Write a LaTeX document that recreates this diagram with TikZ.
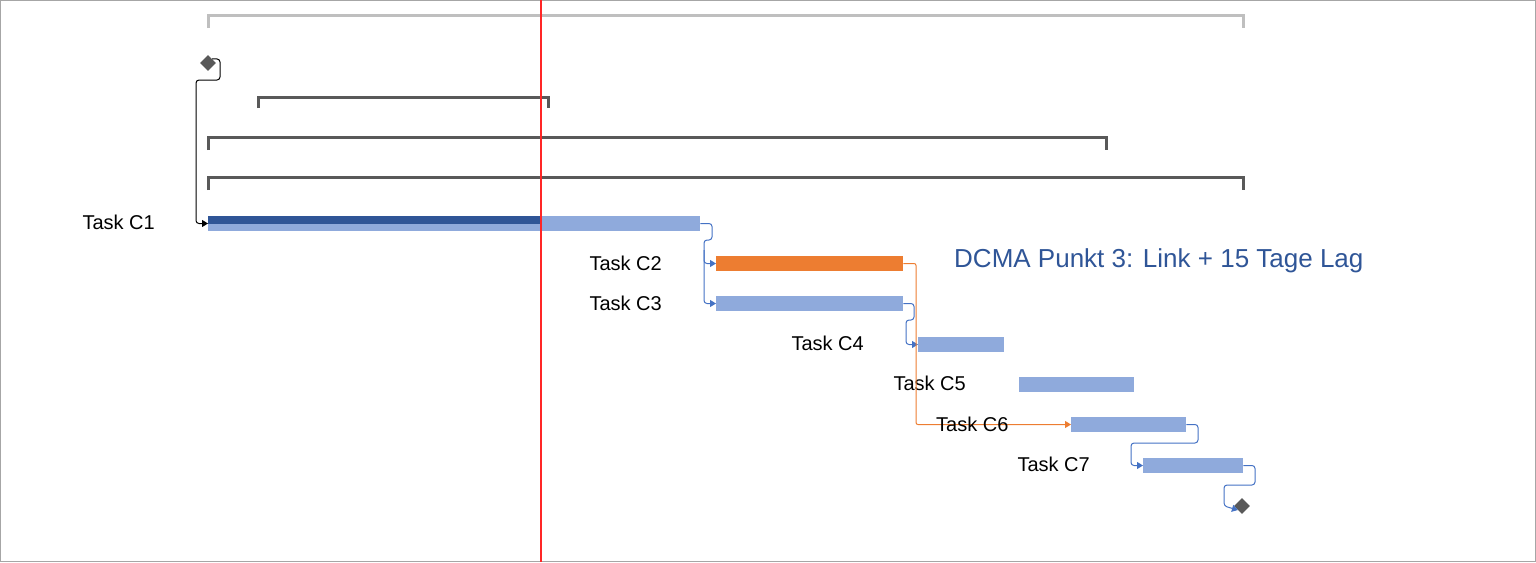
\documentclass[tikz,border=0pt]{standalone}
\usepackage{fontspec}
\setmainfont{Liberation Sans}
\usetikzlibrary{arrows.meta}
\definecolor{lb}{HTML}{8FAADC}
\definecolor{db}{HTML}{2F5597}
\definecolor{org}{HTML}{ED7D31}
\definecolor{cb}{HTML}{4472C4}
\definecolor{dg}{HTML}{595959}
\definecolor{lg}{HTML}{BFBFBF}
\begin{document}
\begin{tikzpicture}[x=1pt,y=-1pt,
  bar/.style={fill=lb,draw=none},
  brk/.style={draw=dg,line width=3pt},
  lbl/.style={font=\fontsize{20}{22}\selectfont,inner sep=0},
  conn/.style={draw=cb,line width=1pt,rounded corners=3pt,-{Triangle[length=6pt,width=7pt]}},
  ms/.style={fill=dg,draw=none,minimum size=11pt,inner sep=0,rotate=45}]
\useasboundingbox (0,0) rectangle (1536,562);
\draw[gray!70,line width=1pt] (0.5,0.5) rectangle (1535.5,561.5);
% brackets
\draw[brk,draw=lg] (208,28) -- (208,15) -- (1243,15) -- (1243,28);
\draw[brk] (258,108) -- (258,97) -- (548,97) -- (548,108);
\draw[brk] (208,150) -- (208,137) -- (1106,137) -- (1106,150);
\draw[brk] (208,190) -- (208,177) -- (1243,177) -- (1243,190);
% milestones
\node[ms] (m0) at (208,63) {};
\node[ms] (m1) at (1242,506) {};
% bars
\fill[lb] (208,216) rectangle (700,231);
\fill[db] (208,216) rectangle (541,224);
\node[bar,minimum width=492pt,minimum height=15pt,inner sep=0,fill=none,anchor=west] (c1) at (208,223.5) {};
\node[bar,fill=org,minimum width=187pt,minimum height=15pt,inner sep=0,anchor=west] (c2) at (716,263.5) {};
\node[bar,minimum width=187pt,minimum height=15pt,inner sep=0,anchor=west] (c3) at (716,303.5) {};
\node[bar,minimum width=86pt,minimum height=15pt,inner sep=0,anchor=west] (c4) at (918,344.5) {};
\node[bar,minimum width=115pt,minimum height=15pt,inner sep=0,anchor=west] (c5) at (1019,384.5) {};
\node[bar,minimum width=115pt,minimum height=15pt,inner sep=0,anchor=west] (c6) at (1071,424.5) {};
\node[bar,minimum width=100pt,minimum height=15pt,inner sep=0,anchor=west] (c7) at (1143,465.5) {};
% labels
\node[lbl,anchor=east] (l1) at (155,222) {Task C1};
\node[lbl,anchor=east] (l2) at (662,263) {Task C2};
\node[lbl,anchor=east] (l3) at (662,303) {Task C3};
\node[lbl,anchor=east] (l4) at (864,343) {Task C4};
\node[lbl,anchor=east] (l5) at (966,383) {Task C5};
\node[lbl,anchor=east] (l7) at (1090,464) {Task C7};
\node[font=\fontsize{26}{28}\selectfont,text=db,anchor=west,inner sep=0] (t) at (954,261) {DCMA Punkt 3: Link + 15 Tage Lag};
% connectors
\draw[conn,draw=black] (m0.east) -| (220,80) -| (196,223.5) -- (c1.west);
\draw[conn] (c1.east) -| (712,240) -| (704,263.5) -- (c2.west);
\draw[conn] (704,250) |- (c3.west);
\draw[conn] (c3.east) -| (914,320) -| (906,344.5) -- (c4.west);
\draw[conn,draw=org,rounded corners=2pt] (c2.east) -| (916,424.5) -- (c6.west);
\node[lbl,anchor=west] (l6) at (936,424) {Task C6};
\draw[conn] (c6.east) -| (1198,443) -| (1131,465.5) -- (c7.west);
\draw[conn] (c7.east) -| (1255,485) -| (1224,506) -- (m1.west);
% status line
\draw[red!85,line width=1.2pt] (541,0) -- (541,562);
\end{tikzpicture}
\end{document}
